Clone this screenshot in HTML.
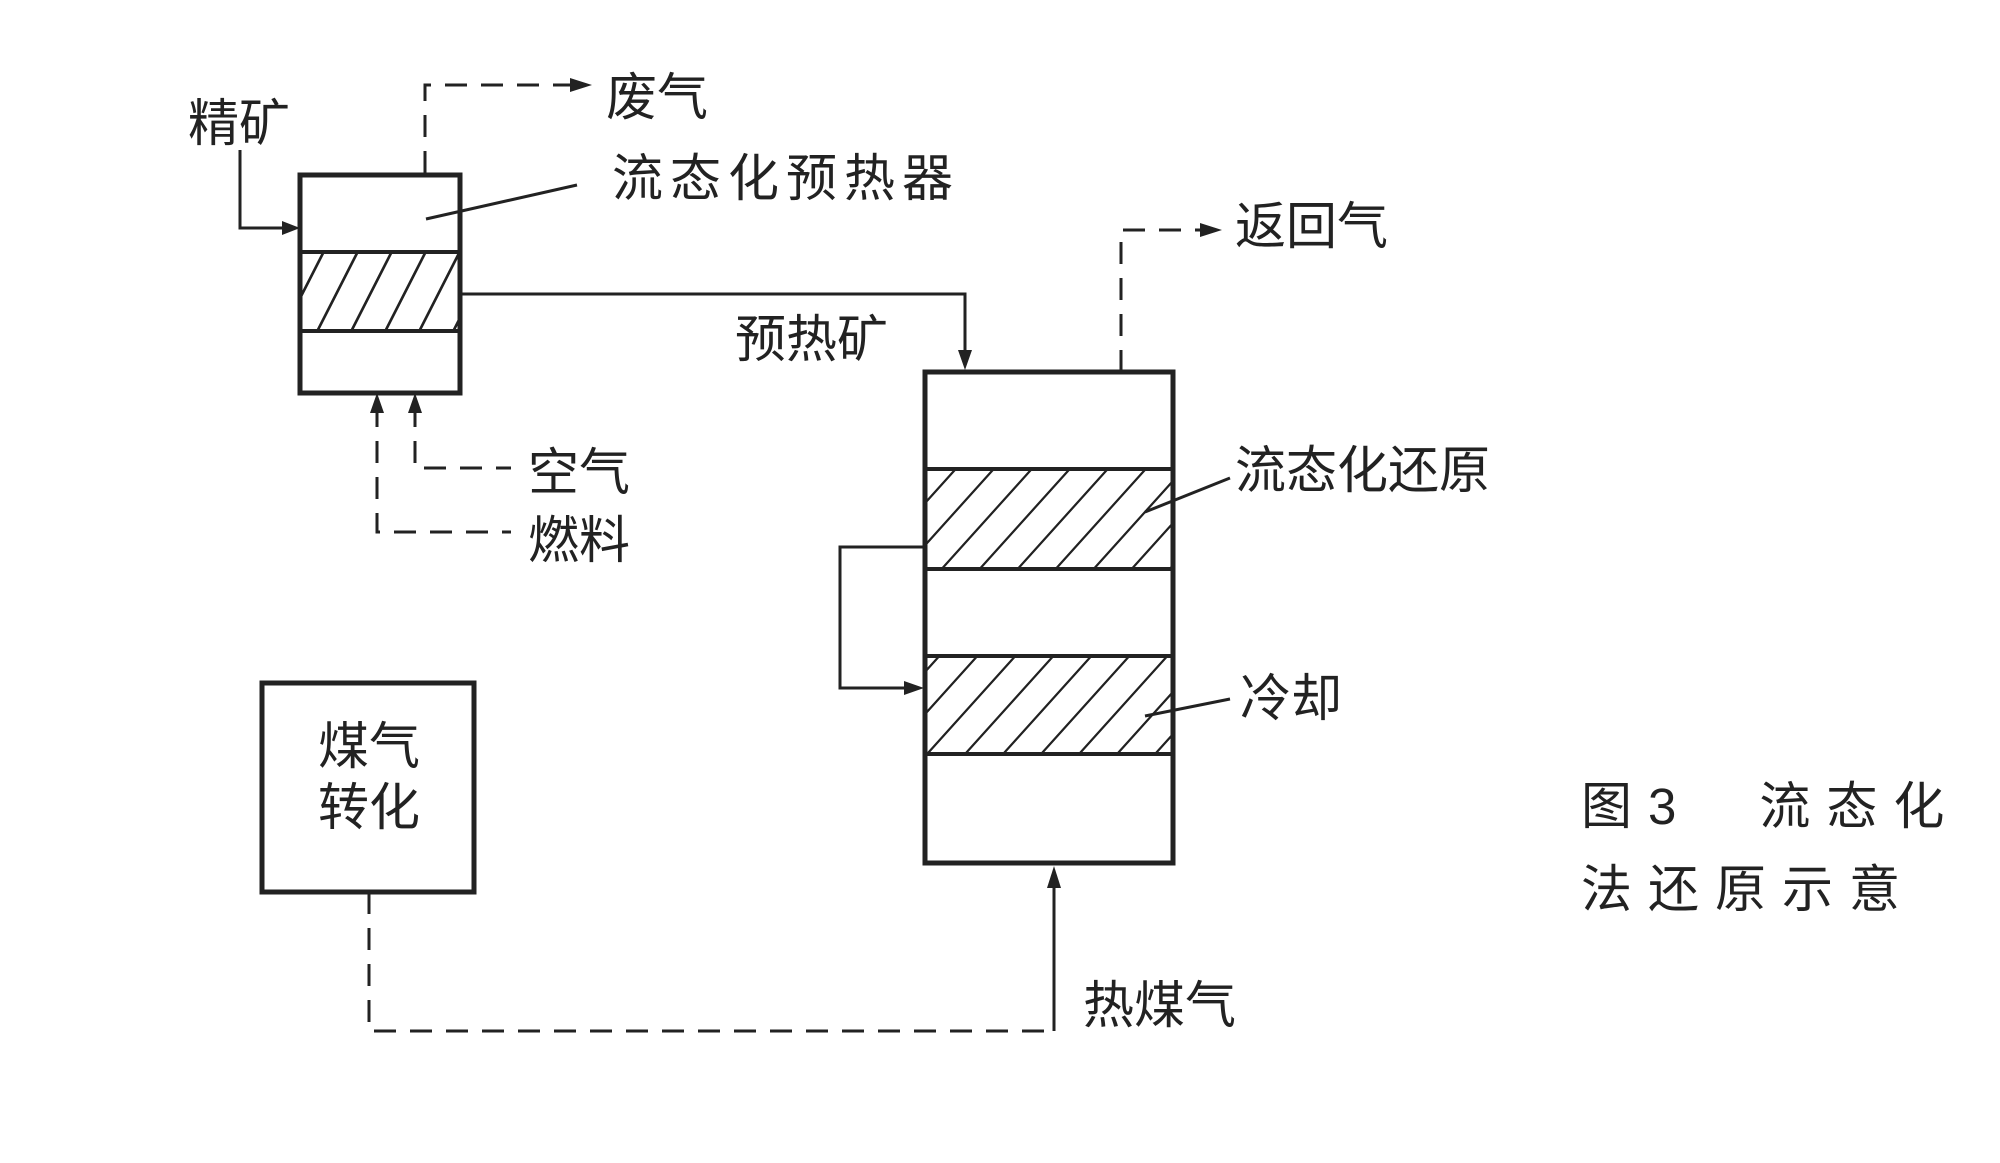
<!DOCTYPE html>
<html><head><meta charset="utf-8"><style>
html,body{margin:0;padding:0;background:#fff;}
svg{display:block;}
text{font-family:"Liberation Sans","Noto Sans CJK SC",sans-serif;font-size:51px;fill:#222;}
</style></head><body>
<svg width="2000" height="1163" viewBox="0 0 2000 1163" xmlns="http://www.w3.org/2000/svg">
<defs>
<pattern id="h1" patternUnits="userSpaceOnUse" width="34" height="70" patternTransform="skewX(-27)">
<line x1="10" y1="0" x2="10" y2="70" stroke="#222" stroke-width="3"/>
</pattern>
<pattern id="h2" patternUnits="userSpaceOnUse" width="38" height="100" patternTransform="skewX(-42)">
<line x1="10" y1="0" x2="10" y2="100" stroke="#222" stroke-width="3"/>
</pattern>
</defs>
<g stroke="#222" fill="none" stroke-width="3">
<rect x="300" y="252" width="160" height="79" fill="url(#h1)" stroke="none"/>
<rect x="300" y="175" width="160" height="218" stroke-width="5"/>
<line x1="300" y1="252" x2="460" y2="252" stroke-width="4"/>
<line x1="300" y1="331" x2="460" y2="331" stroke-width="4"/>
<rect x="925" y="469" width="248" height="100" fill="url(#h2)" stroke="none"/>
<rect x="925" y="656" width="248" height="98" fill="url(#h2)" stroke="none"/>
<rect x="925" y="372" width="248" height="491" stroke-width="5"/>
<line x1="925" y1="469" x2="1173" y2="469" stroke-width="4"/>
<line x1="925" y1="569" x2="1173" y2="569" stroke-width="4"/>
<line x1="925" y1="656" x2="1173" y2="656" stroke-width="4"/>
<line x1="925" y1="754" x2="1173" y2="754" stroke-width="4"/>
<rect x="262" y="683" width="212" height="209" stroke-width="5"/>
<polyline points="240,150 240,228 290,228"/>
<polyline points="425,173 425,85 575,85" stroke-dasharray="22,14"/>
<line x1="426" y1="219" x2="577" y2="185"/>
<polyline points="460,294 965,294 965,354"/>
<polyline points="415,405 415,468 511,468" stroke-dasharray="22,14"/>
<polyline points="377,405 377,532 511,532" stroke-dasharray="22,14"/>
<polyline points="1121,372 1121,230 1205,230" stroke-dasharray="22,14"/>
<line x1="1145" y1="512" x2="1230" y2="478"/>
<line x1="1145" y1="716" x2="1230" y2="699"/>
<polyline points="925,547 840,547 840,688 908,688"/>
<polyline points="369,892 369,1031 1054,1031" stroke-dasharray="22,14"/>
<line x1="1054" y1="1031" x2="1054" y2="883"/>
</g>
<g fill="#222">
<polygon points="300,228 282,221 282,235"/>
<polygon points="592,85 570,78 570,92"/>
<polygon points="965,370 958,350 972,350"/>
<polygon points="415,393 408,413 422,413"/>
<polygon points="377,393 370,413 384,413"/>
<polygon points="1222,230 1200,223 1200,237"/>
<polygon points="924,688 904,681 904,695"/>
<polygon points="1054,866 1047,888 1061,888"/>
</g>
<text x="188" y="141">精矿</text>
<text x="606" y="115">废气</text>
<text x="612" y="196" letter-spacing="7">流态化预热器</text>
<text x="735" y="357">预热矿</text>
<text x="528" y="490">空气</text>
<text x="528" y="558">燃料</text>
<text x="1235" y="244">返回气</text>
<text x="1235" y="488">流态化还原</text>
<text x="1240" y="716">冷却</text>
<text x="318" y="764">煤气</text>
<text x="318" y="825">转化</text>
<text x="1083" y="1023">热煤气</text>
<text x="1581" y="824" letter-spacing="16">图3　流态化</text>
<text x="1581" y="907" letter-spacing="16">法还原示意</text>
</svg>
</body></html>
